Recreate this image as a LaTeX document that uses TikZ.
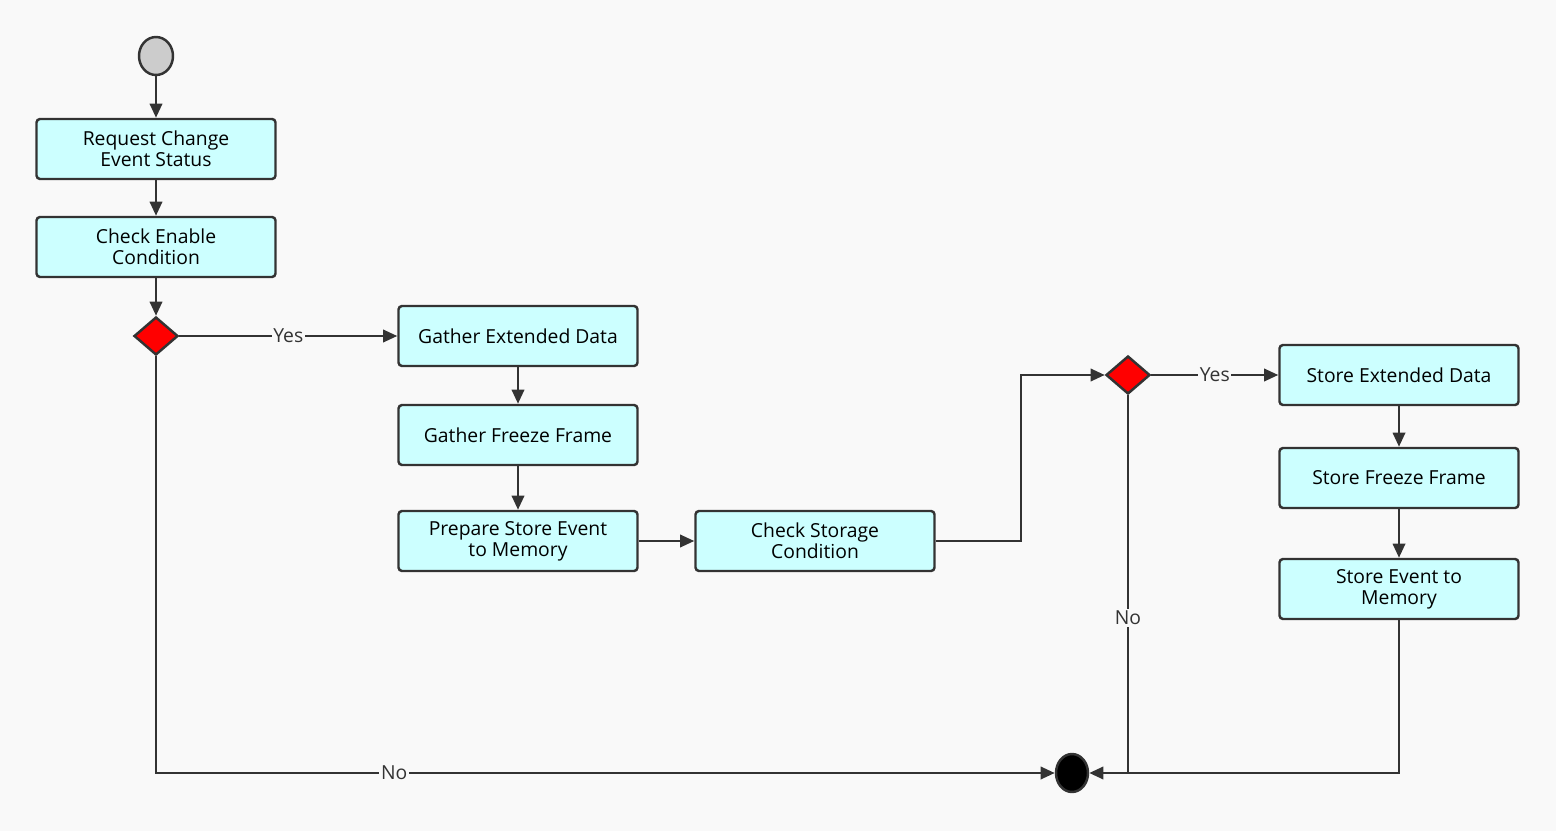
\documentclass[tikz,border=0pt]{standalone}
\usepackage{fontspec}
\setmainfont{Open Sans}
\usetikzlibrary{shapes.geometric,arrows.meta}
\definecolor{bx}{HTML}{CCFFFF}
\definecolor{ln}{HTML}{333333}
\definecolor{bg}{HTML}{F9F9F9}
\begin{document}
\begin{tikzpicture}[x=0.02cm,y=-0.02cm,
  box/.style={draw=ln,line width=1.4pt,fill=bx,rounded corners=2pt,minimum width=239*0.02cm,minimum height=60*0.02cm,align=center,font=\fontsize{11}{12}\selectfont,inner sep=1pt},
  dia/.style={diamond,draw=ln,line width=1.4pt,fill=red,minimum width=44*0.02cm,minimum height=38*0.02cm,inner sep=0pt,aspect=1.15},
  ar/.style={draw=ln,line width=1.4pt,-{Triangle[length=8pt,width=7pt]}},
  ln/.style={draw=ln,line width=1.4pt},
  lab/.style={fill=bg,inner sep=1pt,font=\fontsize{11}{12}\selectfont,text=ln}]
\fill[bg] (0,0) rectangle (1556,831);
\node[ellipse,draw=ln,line width=1.4pt,fill=black!20,minimum width=34*0.02cm,minimum height=38*0.02cm] (st) at (156,56) {};
\node[box] (req) at (156,149) {Request Change\\Event Status};
\node[box] (cec) at (156,247) {Check Enable\\Condition};
\node[dia] (d1) at (156,336) {};
\node[box] (ged) at (518,336) {Gather Extended Data};
\node[box] (gff) at (518,435) {Gather Freeze Frame};
\node[box] (pse) at (518,541) {Prepare Store Event\\to Memory};
\node[box] (csc) at (815,541) {Check Storage\\Condition};
\node[dia] (d2) at (1128,375) {};
\node[box] (sed) at (1399,375) {Store Extended Data};
\node[box] (sff) at (1399,478) {Store Freeze Frame};
\node[box] (sem) at (1399,589) {Store Event to\\Memory};
\node[ellipse,draw=ln,line width=1.4pt,fill=black,minimum width=32*0.02cm,minimum height=38*0.02cm] (en) at (1072,773) {};
\coordinate (c1) at (1021,541);
\coordinate (c2) at (1021,375);
\coordinate (c3) at (156,773);
\coordinate (c4) at (1399,773);
\coordinate (c5) at (1128,773);
\draw[ar] (st) -- (req);
\draw[ar] (req) -- (cec);
\draw[ar] (cec) -- (d1);
\draw[ar] (d1) -- node[lab,pos=0.5]{Yes} (ged);
\draw[ar] (ged) -- (gff);
\draw[ar] (gff) -- (pse);
\draw[ar] (pse) -- (csc);
\draw[ar] (csc) -- (c1) -- (c2) -- (d2);
\draw[ar] (d2) -- node[lab,pos=0.5]{Yes} (sed);
\draw[ar] (sed) -- (sff);
\draw[ar] (sff) -- (sem);
\draw[ar] (sem) -- (c4) -- (en);
\draw[ln] (d2) -- node[lab,pos=0.59]{No} (c5);
\draw[ar] (d1) -- (c3) -- node[lab,pos=0.265]{No} (en);
\end{tikzpicture}
\end{document}
